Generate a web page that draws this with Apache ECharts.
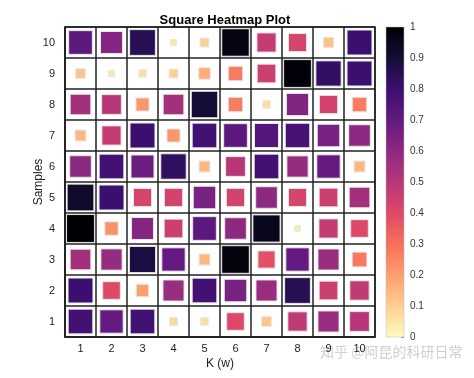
<!DOCTYPE html>
<html>
<head>
<meta charset="UTF-8">
<script src="https://cdn.jsdelivr.net/npm/echarts@6/dist/echarts.min.js"></script>
<title>Square Heatmap Plot</title>
<style>
  html, body { margin: 0; padding: 0; background: #fff; }
  #main { width: 474px; height: 378px; }
</style>
</head>
<body>
<div id="main"></div>
<script type="text/javascript">
// x categories (K) and y categories (Samples)
var kLabels = ['1', '2', '3', '4', '5', '6', '7', '8', '9', '10'];
var sampleLabels = ['1', '2', '3', '4', '5', '6', '7', '8', '9', '10'];
var colorTicks = [0, 1];

// one row per sample, bottom (1) to top (10)
var row1  = [0.78, 0.70, 0.78, 0.08, 0.07, 0.40, 0.12, 0.48, 0.57, 0.50];
var row2  = [0.80, 0.40, 0.20, 0.57, 0.78, 0.65, 0.57, 0.85, 0.45, 0.48];
var row3  = [0.55, 0.58, 0.88, 0.70, 0.15, 0.98, 0.38, 0.70, 0.57, 0.28];
var row4  = [1.00, 0.23, 0.62, 0.45, 0.72, 0.60, 0.95, 0.04, 0.47, 0.40];
var row5  = [0.92, 0.80, 0.42, 0.43, 0.65, 0.43, 0.60, 0.42, 0.45, 0.55];
var row6  = [0.60, 0.78, 0.68, 0.83, 0.15, 0.50, 0.78, 0.58, 0.70, 0.15];
var row7  = [0.15, 0.47, 0.80, 0.22, 0.78, 0.72, 0.74, 0.77, 0.65, 0.60];
var row8  = [0.55, 0.50, 0.22, 0.55, 0.90, 0.27, 0.07, 0.63, 0.43, 0.27];
var row9  = [0.12, 0.05, 0.07, 0.10, 0.17, 0.27, 0.45, 0.99, 0.82, 0.80];
var row10 = [0.72, 0.62, 0.85, 0.05, 0.10, 0.97, 0.47, 0.42, 0.13, 0.80];
var rows = [row1, row2, row3, row4, row5, row6, row7, row8, row9, row10];

// magma, reversed (0 = light yellow, 1 = black)
var magmaR = ['#fcfdbf', '#fecf92', '#fe9f6d', '#f7705c', '#de4968', '#b73779',
              '#8c2981', '#641a80', '#3b0f70', '#140e36', '#000004'];

var points = [];
rows.forEach(function (r, yi) {
  r.forEach(function (v, xi) {
    points.push([xi, yi, v]);
  });
});

var cell = 31;
var chart = echarts.init(document.getElementById('main'));

var option = {
  backgroundColor: '#fff',
  animation: false,
  title: {
    text: 'Square Heatmap Plot',
    left: 220,
    textAlign: 'center',
    top: 9,
    textStyle: { fontFamily: 'Liberation Sans', fontSize: 13, fontWeight: 'bold', color: '#000' }
  },
  grid: [
    { left: 65, top: 27, width: 310, height: 310, show: true, borderColor: '#222', borderWidth: 1.5, backgroundColor: '#fff' },
    { left: 386, top: 27, width: 18, height: 310 }
  ],
  xAxis: [
    {
      gridIndex: 0, type: 'category', data: kLabels,
      name: 'K (w)', nameLocation: 'middle', nameGap: 21, nameMoveOverlap: false,
      nameTextStyle: { fontFamily: 'Liberation Sans', fontSize: 12, color: '#222' },
      axisLine: { show: true, lineStyle: { color: '#222', width: 1.5 } },
      axisTick: { show: false },
      axisLabel: { fontFamily: 'Liberation Sans', fontSize: 11, color: '#222', margin: 6 },
      splitLine: { show: true, interval: 0, lineStyle: { color: '#222', width: 1.5 } }
    },
    { gridIndex: 1, type: 'category', data: ['c'], show: false }
  ],
  yAxis: [
    {
      gridIndex: 0, type: 'category', data: sampleLabels,
      name: 'Samples', nameLocation: 'middle', nameGap: 20, nameMoveOverlap: false,
      nameTextStyle: { fontFamily: 'Liberation Sans', fontSize: 12, color: '#222' },
      axisLine: { show: true, lineStyle: { color: '#222', width: 1.5 } },
      axisTick: { show: false },
      axisLabel: { fontFamily: 'Liberation Sans', fontSize: 11, color: '#222', margin: 10 },
      splitLine: { show: true, interval: 0, lineStyle: { color: '#222', width: 1.5 } }
    },
    {
      gridIndex: 1, type: 'value', min: 0, max: 1, interval: 0.1, position: 'right',
      axisLine: { show: false },
      axisTick: { show: true, inside: true, length: 3, lineStyle: { color: '#999' } },
      axisLabel: {
        fontFamily: 'Liberation Sans', fontSize: 10, color: '#333', margin: 6,
        formatter: function (v) { return String(Math.round(v * 10) / 10); }
      },
      splitLine: { show: false }
    }
  ],
  visualMap: {
    show: false, type: 'continuous', min: 0, max: 1, dimension: 2, seriesIndex: 0,
    inRange: { color: magmaR }
  },
  series: [
    {
      type: 'scatter',
      xAxisIndex: 0, yAxisIndex: 0,
      symbol: 'rect',
      symbolSize: function (d) { return 0.9 * cell * Math.sqrt(d[2]); },
      itemStyle: { opacity: 1, borderColor: '#e6e6e6', borderWidth: 1 },
      data: points
    },
    {
      type: 'custom',
      xAxisIndex: 1, yAxisIndex: 1,
      data: [colorTicks],
      renderItem: function (params, api) {
        var top = api.coord([0, api.value(1)]);
        var bot = api.coord([0, api.value(0)]);
        var w = api.size([1, 0])[0];
        var stops = magmaR.map(function (c, i) {
          return { offset: 1 - i / (magmaR.length - 1), color: c };
        });
        return {
          type: 'rect',
          shape: { x: top[0] - w / 2, y: top[1], width: w, height: bot[1] - top[1] },
          style: {
            fill: new echarts.graphic.LinearGradient(0, 0, 0, 1, stops),
            stroke: '#bbb', lineWidth: 0.5
          }
        };
      },
      z: 1
    }
  ],
  graphic: [
    {
      type: 'text', left: 320, top: 345,
      style: { text: '知乎 @阿昆的科研日常', font: '14px "Noto Sans CJK SC"', fill: '#cfcfcf' }
    }
  ]
};
chart.setOption(option);
</script>
</body>
</html>
